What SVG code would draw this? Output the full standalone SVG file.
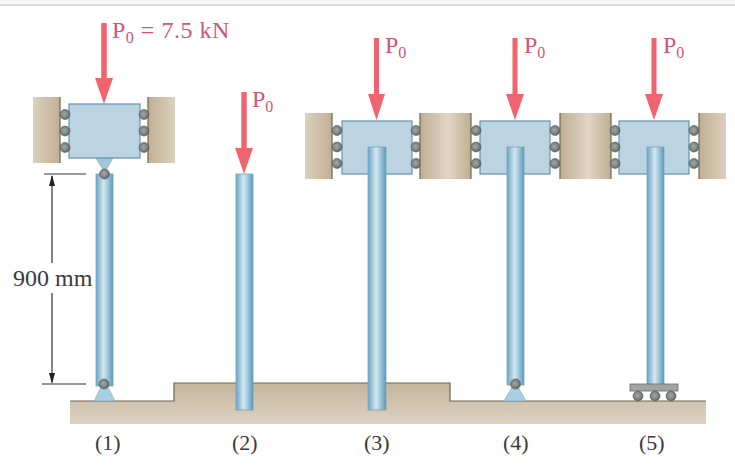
<svg xmlns="http://www.w3.org/2000/svg" xmlns:xlink="http://www.w3.org/1999/xlink" width="735" height="470" viewBox="0 0 735 470">
<style>
.lab{font-family:"Liberation Serif",serif;font-size:22px;fill:#3a3a3a}
.p{font-family:"Liberation Serif",serif;font-size:24px;fill:#d0557a}
.s{font-size:16px}
.blk{fill:#bcd3e2;stroke:#5f93ad;stroke-width:1.2}
.col{fill:url(#colG);stroke:#6fa6c0;stroke-width:.8}
.wall{stroke:none}
.edge{stroke:#6e6650;stroke-width:1.2;fill:none}
.dim{stroke:#333;stroke-width:1.2;fill:none}
.tri{fill:#a9cfe2;stroke:#7fa8bc;stroke-width:.6}
</style>
<defs>
<linearGradient id="colG" x1="0" x2="1" y1="0" y2="0"><stop offset="0" stop-color="#6aa5c4"/><stop offset=".45" stop-color="#d5e7f0"/><stop offset=".75" stop-color="#93c0d6"/><stop offset="1" stop-color="#5b98b9"/></linearGradient>
<linearGradient id="wallL" x1="0" x2="1" y1="0" y2="0"><stop offset="0" stop-color="#dbd0bd"/><stop offset="1" stop-color="#c0b094"/></linearGradient>
<linearGradient id="wallR" x1="0" x2="1" y1="0" y2="0"><stop offset="0" stop-color="#c0b094"/><stop offset="1" stop-color="#dbd0bd"/></linearGradient>
<linearGradient id="wallM" x1="0" x2="1" y1="0" y2="0"><stop offset="0" stop-color="#bfae92"/><stop offset=".55" stop-color="#e0d6c6"/><stop offset="1" stop-color="#bfae92"/></linearGradient>
<linearGradient id="gnd" x1="0" x2="0" y1="0" y2="1"><stop offset="0" stop-color="#c4b59b"/><stop offset="1" stop-color="#ddd3c3"/></linearGradient>
<radialGradient id="rol" cx=".45" cy=".45" r=".6"><stop offset="0" stop-color="#a3a6a6"/><stop offset=".6" stop-color="#7e8484"/><stop offset="1" stop-color="#4c5252"/></radialGradient>
<g id="r"><circle r="5" fill="url(#rol)" stroke="#5a6060" stroke-width=".6"/></g>
<g id="rr"><use xlink:href="#r" y="-16.500"/><use xlink:href="#r"/><use xlink:href="#r" y="16.500"/></g>
</defs>
<rect width="735" height="470" fill="#fff"/>
<rect width="735" height="5" fill="#f6f6f6"/>
<rect y="4.500" width="735" height="1.200" fill="#c8c8c8"/>
<g id="ground"><path d="M70 401H174V383H450V401H706V424H70Z" fill="url(#gnd)"/><path class="edge" d="M70 401H174V383H450V401H706"/></g>
<g id="column1"><path class="tri" d="M94 401L102 385H107L115 401Z"/><path d="M96 158H113L106 170H103Z" fill="#a3c6d8" stroke="#7fa8bc" stroke-width=".6"/><rect class="col" x="96" y="174" width="17" height="212"/><use xlink:href="#r" x="104.500" y="174"/><use xlink:href="#r" x="104" y="384"/>
<rect class="wall" x="33" y="97" width="27" height="66" fill="url(#wallL)"/><path class="edge" d="M60 97V163"/><rect class="wall" x="148" y="97" width="27" height="66" fill="url(#wallR)"/><path class="edge" d="M148 97V163"/><rect class="blk" x="69" y="104" width="71" height="54"/><use xlink:href="#rr" x="65" y="131"/><use xlink:href="#rr" x="144" y="131"/>
<text class="lab" x="95" y="450">(1)</text></g>
<g id="column2"><rect class="col" x="236" y="174" width="17" height="236"/><text class="lab" x="232" y="450">(2)</text></g>
<g id="column3"><rect class="wall" x="305" y="113" width="27" height="66" fill="url(#wallL)"/><path class="edge" d="M332 113V179"/><rect class="blk" x="342" y="121" width="70" height="53"/><rect class="col" x="368" y="147" width="18" height="263"/><use xlink:href="#rr" x="337" y="147"/><use xlink:href="#rr" x="416" y="147"/><text class="lab" x="364" y="450">(3)</text></g>
<g id="wall34"><rect class="wall" x="420" y="113" width="51" height="66" fill="url(#wallM)"/><path class="edge" d="M420 113V179M471 113V179"/></g>
<g id="column4"><path class="tri" d="M504 401L513 385H517L526 401Z"/><rect class="blk" x="480" y="121" width="70" height="53"/><rect class="col" x="507" y="147" width="17" height="238"/><use xlink:href="#r" x="515.500" y="384"/><use xlink:href="#rr" x="476" y="147"/><use xlink:href="#rr" x="555" y="147"/><text class="lab" x="503" y="450">(4)</text></g>
<g id="wall45"><rect class="wall" x="560" y="113" width="51" height="66" fill="url(#wallM)"/><path class="edge" d="M560 113V179M611 113V179"/></g>
<g id="column5"><rect class="blk" x="619" y="121" width="70" height="53"/><rect class="col" x="647" y="147" width="17" height="238"/><rect x="630" y="384" width="48" height="7" fill="#a3a5a5" stroke="#666" stroke-width=".8"/><use xlink:href="#r" x="638" y="396"/><use xlink:href="#r" x="655" y="396"/><use xlink:href="#r" x="671" y="396"/><use xlink:href="#rr" x="615" y="147"/><use xlink:href="#rr" x="694" y="147"/><rect class="wall" x="699" y="113" width="27" height="66" fill="url(#wallR)"/><path class="edge" d="M699 113V179"/><text class="lab" x="639" y="450">(5)</text></g>
<g id="connectors">
<path d="M101.200 23H106.800V78H113L104 104L95 78H101.200Z" fill="#f0646f"/>
<path d="M241.300 92H246.700V148H253L244 174L235 148H241.300Z" fill="#f0646f"/>
<path d="M374 38H379V94H385L376.500 120L368 94H374Z" fill="#f0646f"/>
<path d="M512.500 38H517.500V94H524L515 120L506 94H512.500Z" fill="#f0646f"/>
<path d="M651.500 38H656.500V94H663L654 120L645 94H651.500Z" fill="#f0646f"/>
<path class="dim" d="M44 174H86M42 384H86M52 176V263M52 293V382"/>
<path d="M52 175L49 186H55Z M52 384L49 373H55Z" fill="#222"/>
</g>
<g id="labels">
<text class="p" x="112" y="38" letter-spacing=".5">P<tspan class="s" dy="5">0</tspan><tspan dy="-5"> = 7.5 kN</tspan></text>
<text class="p" x="252" y="107">P<tspan class="s" dy="5">0</tspan></text>
<text class="p" x="385" y="53">P<tspan class="s" dy="5">0</tspan></text>
<text class="p" x="524" y="53">P<tspan class="s" dy="5">0</tspan></text>
<text class="p" x="663" y="53">P<tspan class="s" dy="5">0</tspan></text>
<text class="lab" x="13" y="286" style="font-size:24px">900 mm</text>
</g>
</svg>
